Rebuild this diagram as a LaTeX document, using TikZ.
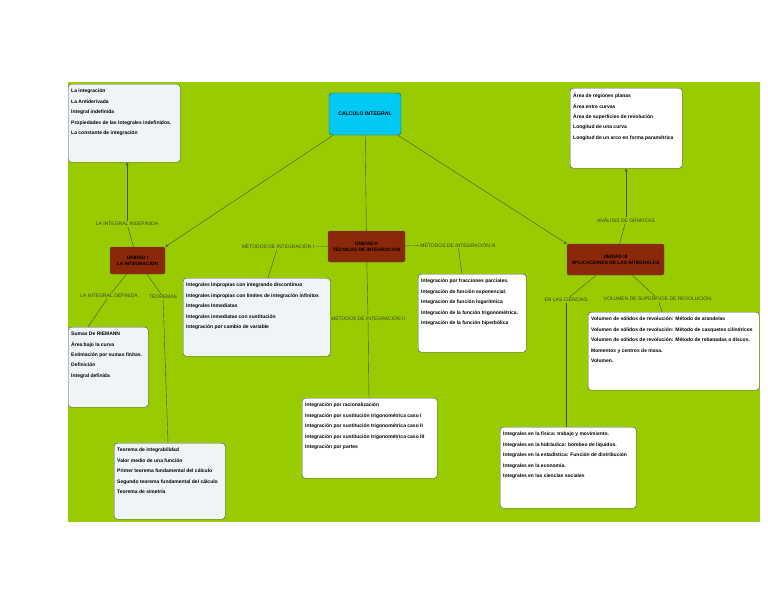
\documentclass[tikz,border=0pt]{standalone}
\usepackage{fontspec}
\setmainfont{Liberation Sans}
\usetikzlibrary{positioning}
\tikzset{>=stealth}
\definecolor{bgreen}{RGB}{153,204,0}
\definecolor{rust}{RGB}{140,40,10}
\definecolor{skyb}{RGB}{0,200,245}
\definecolor{paleb}{RGB}{238,244,248}
\tikzstyle{unit}=[draw=black!70,fill=rust,rounded corners=2pt,align=center,font=\bfseries\fontsize{4.8}{6.2}\selectfont,inner sep=0pt]
\tikzstyle{info}=[draw=black!70,rounded corners=3pt,inner sep=0pt,anchor=north west,font=\bfseries\fontsize{5}{10.4}\selectfont]
\tikzstyle{lbl}=[font=\fontsize{5}{6}\selectfont,text=black!75,fill=bgreen,inner sep=1pt]
\tikzstyle{link}=[draw=black!70,thin]
\newcommand{\boxtext}[3]{\parbox[t][#2pt][t]{#1pt}{\vspace*{5pt}\hspace*{3pt}\parbox[t]{#1pt}{#3}}}

\begin{document}
\begin{tikzpicture}[x=1pt,y=-1pt]
  \useasboundingbox (0,0) rectangle (768,594);
  \fill[bgreen] (68,82) rectangle (760,522);

  % central concept and units
  \node[draw=black!70,fill=skyb,rounded corners=3pt,minimum width=72pt,minimum height=42pt,font=\bfseries\fontsize{5.2}{6}\selectfont] (calc) at (365,114) {CALCULO INTEGRAL};
  \node[unit,minimum width=55pt,minimum height=27pt] (u1) at (137.5,260.5) {UNIDAD I\\LA INTEGRACION};
  \node[unit,minimum width=77pt,minimum height=31pt] (u2) at (366.5,246.5) {UNIDAD II\\TÉCNICAS DE INTEGRACION};
  \node[unit,minimum width=97pt,minimum height=31pt] (u3) at (615.5,259.5) {UNIDAD III\\APLICACIONES DE LAS INTEGRALES};

  % content boxes
  \node[info,fill=paleb] (b1) at (68,84) {\boxtext{112}{78}{La integración\\La Antiderivada\\Integral indefinida\\Propiedades de las Integrales indefinidos.\\La constante de integración}};
  \node[info,fill=white] (b9) at (570,88) {\boxtext{112}{80}{Área de regiones planas\\Área entre curvas\\Área de superficies de revolución\\Longitud de una curva\\Longitud de un arco en forma paramétrica}};
  \node[info,fill=paleb] (b4) at (183,278) {\boxtext{147}{78}{Integrales Impropias con integrando discontinuo\\Integrales impropias con límites de integración infinitos\\Integrales Inmediatas\\Integrales inmediatas con sustitución\\Integración por cambio de variable}};
  \node[info,fill=paleb] (b2) at (68,327) {\boxtext{80}{80}{Sumas De RIEMANN\\Área bajo la curva\\Estimación por sumas finitas.\\Definición\\Integral definida}};
  \node[info,fill=paleb] (b3) at (114,443) {\boxtext{111}{76}{Teorema de integrabilidad\\Valor medio de una función\\Primer teorema fundamental del cálculo\\Segundo teorema fundamental del cálculo\\Teorema de simetría}};
  \node[info,fill=white] (b5) at (302,398) {\boxtext{135}{80}{Integración por racionalización\\Integración por sustitución trigonométrica caso I\\Integración por sustitución trigonométrica caso II\\Integración por sustitución trigonométrica caso III\\Integración por partes}};
  \node[info,fill=white] (b6) at (418,274) {\boxtext{108}{78}{Integración por fracciones parciales.\\Integración de función exponencial.\\Integración de función logarítmica\\Integración de la función trigonométrica.\\Integración de la función hiperbólica}};
  \node[info,fill=white] (b7) at (588,312) {\boxtext{171}{78}{Volumen de sólidos de revolución: Método de arandelas\\Volumen de sólidos de revolución: Método de casquetes cilíndricos\\Volumen de sólidos de revolución: Método de rebanadas o discos.\\Momentos y centros de masa.\\Volumen.}};
  \node[info,fill=white] (b8) at (500,427) {\boxtext{136}{81}{Integrales en la física: trabajo y movimiento.\\Integrales en la hidráulica: bombeo de líquidos.\\Integrales en la estadística: Función de distribución\\Integrales en la economía.\\Integrales en las ciencias sociales}};

  % linking phrases
  \node[lbl] (l1) at (127,224) {LA INTEGRAL INDEFINIDA};
  \node[lbl] (l2) at (109,296) {LA INTEGRAL DEFINIDA};
  \node[lbl] (l3) at (163,297) {TEOREMAS};
  \node[lbl] (l4) at (278,246) {MÉTODOS DE INTEGRACIÓN I};
  \node[lbl] (l5) at (368,318) {MÉTODOS DE INTEGRACIÓN II};
  \node[lbl] (l6) at (458,245) {MÉTODOS DE INTEGRACIÓN III};
  \node[lbl] (l7) at (626,220) {ANÁLISIS DE GRAFICAS};
  \node[lbl] (l8) at (566,300) {EN LAS CIENCIAS};
  \node[lbl] (l9) at (658,299) {VOLUMEN DE SUPERFICIE DE REVOLUCION.};

  % connectors
  \draw[link,->] (calc) -- (u1.north east);
  \draw[link] (calc) -- (u2);
  \draw[link,->] (calc) -- (u3.north west);
  \draw[link] (u1) -- (l1); \draw[link,->] (l1) -- (b1.south -| l1);
  \draw[link] (u1) -- (l2); \draw[link] (l2) -- (b2.north -| 88,0);
  \draw[link] (u1) -- (l3); \draw[link] (l3) -- (b3.north -| 168,0);
  \draw[link] (u2) -- (l4); \draw[link] (l4) -- (b4.north -| 268,0);
  \draw[link] (u2) -- (l5); \draw[link] (l5) -- (b5.north -| 369,0);
  \draw[link] (u2) -- (l6); \draw[link] (l6) -- (b6.north -| 462,0);
  \draw[link] (u3) -- (l7); \draw[link,->] (l7) -- (b9.south -| 626,0);
  \draw[link] (u3) -- (l8); \draw[link] (l8) -- (b8.north -| 566,0);
  \draw[link] (u3) -- (l9); \draw[link] (l9) -- (b7.north -| 662,0);
\end{tikzpicture}
\end{document}
